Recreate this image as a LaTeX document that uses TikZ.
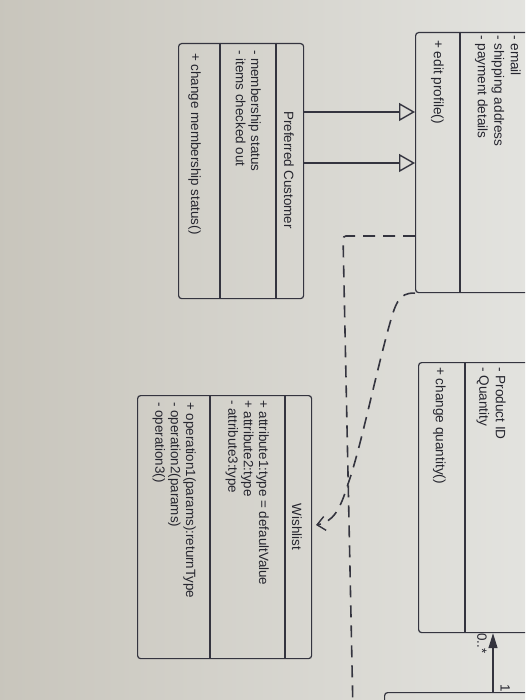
\documentclass[tikz,border=0pt]{standalone}
\usepackage{fontspec}
\setmainfont{Liberation Sans}
\usetikzlibrary{arrows.meta}
\definecolor{bgl}{HTML}{C8C5BC}
\definecolor{bgr}{HTML}{E3E3DF}
\definecolor{linec}{HTML}{34343F}
\definecolor{textc}{HTML}{25252E}
\begin{document}
\begin{tikzpicture}[x=1pt,y=-1pt,
  umlbox/.style={draw=linec, line width=1.2pt, rounded corners=3pt, rectangle, inner sep=0pt, anchor=north west},
  sep/.style={draw=linec, line width=1.1pt},
  txt/.style={text=textc, font=\fontsize{13.4}{15.3}\selectfont, rotate=-90, anchor=north west, align=left, inner sep=0pt},
  txtr/.style={txt, font=\fontsize{13.6}{16.5}\selectfont},
  gen/.style={draw=linec, line width=1.1pt, -{Triangle[open, length=16pt, width=18pt, line width=1.4pt]}},
  dep/.style={draw=linec, line width=1.6pt, dash pattern=on 12pt off 8pt},
  assoc/.style={draw=linec, line width=1.2pt, -{Triangle[length=15pt, width=9pt]}}
]
\useasboundingbox (0,0) rectangle (525,700);
\clip (0,0) rectangle (525,700);
\shade[left color=bgl, right color=bgr] (-5,-5) rectangle (530,705);

% boxes
\node[umlbox, minimum width=150pt, minimum height=260pt] (cust) at (415,32) {};
\node[umlbox, minimum width=125pt, minimum height=255pt] (pref) at (178,43) {};
\node[umlbox, minimum width=145pt, minimum height=270pt] (prod) at (418,362) {};
\node[umlbox, minimum width=174pt, minimum height=263pt] (wish) at (137,395) {};
\node[umlbox, minimum width=180pt, minimum height=80pt] (botb) at (384,692) {};

% compartments
\draw[sep] (460,32) -- (460,292);
\draw[sep] (220,43) -- (220,298);
\draw[sep] (276,43) -- (276,298);
\draw[sep] (465,362) -- (465,632);
\draw[sep] (210,395) -- (210,658);
\draw[sep] (285,395) -- (285,658);

% texts
\node[txtr] (ca) at (521,35) {- email\\- shipping address\\- payment details};
\node[txtr] (co) at (444,40) {+ edit profile()};
\node[txt, anchor=center] (pn) at (289,170) {Preferred Customer};
\node[txt] (pa) at (261,50) {- membership status\\- items checked out};
\node[txt] (po) at (201,53) {+ change membership status()};
\node[txtr] (qa) at (506,367) {- Product ID\\- Quantity};
\node[txtr] (qo) at (446,367) {+ change quantity()};
\node[txt, anchor=center] (wn) at (297,527) {Wishlist};
\node[txt] (wa) at (269,400) {+ attribute1:type = defaultValue\\+ attribute2:type\\- attribute3:type};
\node[txt] (wo) at (196,402) {+ operation1(params):returnType\\- operation2(params)\\- operation3()};
\node[txt] (m1) at (487,633) {0..*};
\node[txt] (m2) at (510,684) {1};

% generalizations
\coordinate (g1) at (0,112);
\coordinate (g2) at (0,163);
\draw[gen] (pref.east |- g1) -- (cust.west |- g1);
\draw[gen] (pref.east |- g2) -- (cust.west |- g2);

% dependencies
\coordinate (d1) at (0,236);
\coordinate (dc) at (343,236);
\coordinate (dend) at (353,712);
\draw[dep, rounded corners=3pt] (cust.west |- d1) -- (dc) -- (dend);
\coordinate (tip) at (316,525);
\draw[dep, -{Straight Barb[length=8pt, width=14pt, line width=1.4pt]}] (cust.south west) .. controls (398,292) and (395,305) .. (388,330) .. controls (372,390) and (360,450) .. (348,484) .. controls (340,510) and (333,522) .. (tip);

% association
\coordinate (a1) at (493,0);
\draw[assoc] (botb.north -| a1) -- (prod.south -| a1);
\end{tikzpicture}
\end{document}
